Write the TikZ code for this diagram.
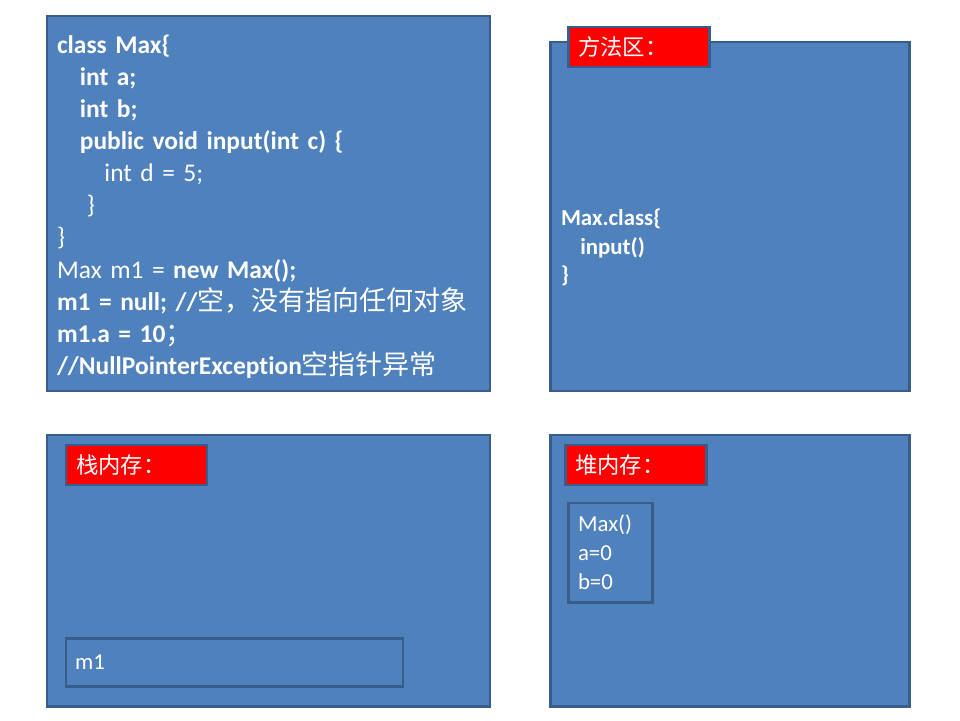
\documentclass[tikz,border=0pt]{standalone}
\usepackage{fontspec}
\setmainfont{Carlito}[Ligatures={NoCommon,NoContextual}, Contextuals=NoAlternate]
\newfontfamily\cjk{Noto Sans CJK SC}[Scale=1.06]
\usepackage{xcolor}
\usepackage{tikz}
\usetikzlibrary{positioning}

\definecolor{boxfill}{HTML}{4F81BD}
\definecolor{boxline}{HTML}{385D8A}

\def\px{0.02cm}

\begin{document}
\begin{tikzpicture}[
  x=0.02cm, y=-0.02cm,
  every node/.style={text=white, inner sep=0pt, outer sep=0pt},
  area/.style={draw=boxline, fill=boxfill, line width=1.7pt, anchor=north west},
  tag/.style={draw=boxline, fill=red, line width=1.7pt, anchor=north west,
    minimum height=40*\px, text width=121*\px, inner xsep=10*\px, align=left,
    font=\cjk\fontsize{12}{15}\selectfont},
  cell/.style={draw=boxline, line width=1.7pt, anchor=north west, align=left,
    font=\fontsize{13}{16.4}\selectfont},
]

%% ── page ──────────────────────────────────────────────────────────────────
\useasboundingbox (0,0) rectangle (960,720);

%% ── source code ───────────────────────────────────────────────────────────
\node[area, minimum width=443*\px, minimum height=375*\px] (code) at (47,16) {};
\node[anchor=north west, text width=430*\px, align=left,
      font=\fontsize{14.5}{18.25}\selectfont] (src) at (57,35)
  {\textbf{class Max\{}\\
   \hspace*{13pt}\textbf{int a;}\\
   \hspace*{13pt}\textbf{int b;}\\
   \hspace*{13pt}\textbf{public void input(int c) \{}\\
   \hspace*{27pt}int d = 5;\\
   \hspace*{17pt}\}\\
   \}\\
   Max m1 = \textbf{new Max();}\\
   \textbf{m1 = null; //}{\cjk 空，没有指向任何对象}\\
   \textbf{m1.a = 10}{\cjk ；}\\
   \textbf{//NullPointerException}{\cjk 空指针异常}};

%% ── method area ───────────────────────────────────────────────────────────
\node[area, minimum width=359*\px, minimum height=349*\px] (method) at (550,42) {};
\node[tag] (methodTag) at (568,27) {方法区：};
\node[anchor=north west, align=left,
      font=\bfseries\fontsize{13}{16.3}\selectfont] (classInfo) at (561,209)
  {Max.class\{\\
   \hspace*{11pt}input()\\
   \}};

%% ── stack ─────────────────────────────────────────────────────────────────
\node[area, minimum width=443*\px, minimum height=271*\px] (stack) at (47,435) {};
\node[tag] (stackTag) at (66,445) {栈内存：};
\node[cell, minimum height=48*\px, text width=319*\px, inner xsep=9*\px] (m1) at (66,638) {m1};

%% ── heap ──────────────────────────────────────────────────────────────────
\node[area, minimum width=359*\px, minimum height=271*\px] (heap) at (550,435) {};
\node[tag] (heapTag) at (565,445) {堆内存：};
\node[cell, minimum height=99*\px, text width=64*\px, inner xsep=10*\px] (obj) at (568,503)
  {Max()\\ a=0\\ b=0};

\end{tikzpicture}
\end{document}
